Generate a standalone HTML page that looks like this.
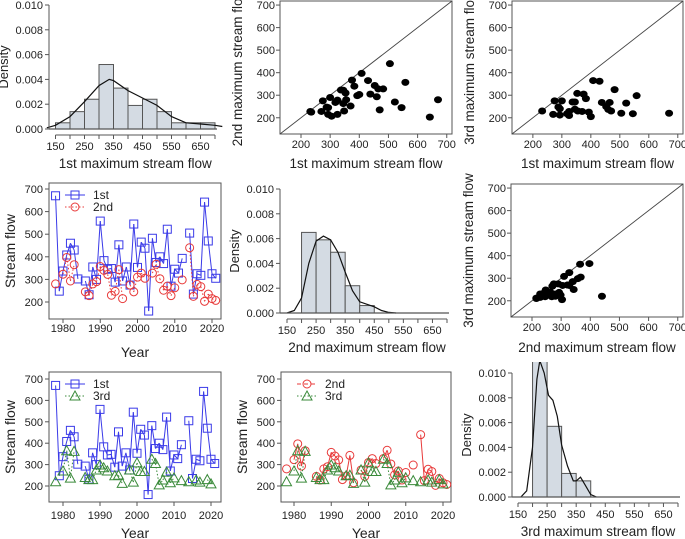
<!DOCTYPE html>
<html><head><meta charset="utf-8"><style>
html,body{margin:0;padding:0;background:#fff;}
svg{display:block;font-family:"Liberation Sans",Arial,sans-serif;}
</style></head><body>
<svg id="fig" width="685" height="539" viewBox="0 0 685 539"></svg>
<script>
const years=[];for(let y=1978;y<=2021;y++)years.push(y);
const first=[670,248,337,408,460,430,302,null,293,232,355,300,558,383,345,348,288,453,293,355,275,545,353,465,438,160,482,375,400,370,522,270,345,328,393,null,505,235,325,318,642,470,325,305];
const second=[280,null,323,397,293,365,null,null,245,228,280,290,357,340,322,230,247,343,215,null,275,245,310,328,305,null,328,367,303,252,270,228,263,null,298,null,440,225,278,268,203,235,215,207];
const third=[220,null,270,365,237,362,null,null,240,230,230,275,298,285,270,null,248,250,212,null,275,218,308,268,268,null,325,305,205,228,265,215,238,null,225,null,220,null,228,218,null,230,210,null];
const binEdges=[150,200,250,300,350,400,450,500,550,600,650,700];
const hist1=[0.0005,0.0014,0.0024,0.0052,0.0033,0.0019,0.0024,0.0014,0.0005,0.0005,0.0005];
const hist2=[0,0.0065,0.0059,0.0049,0.0022,0.0006,0,0,0,0,0];
const hist3=[0,0.0125,0.0057,0.0019,0.0013,0,0,0,0,0,0];
const kdeX1=[120,150,200,250,300,335,350,400,450,500,550,600,650,700,725];
const kdeY1=[0.0001,0.0003,0.0010,0.0022,0.0035,0.0040,0.0039,0.0031,0.0025,0.0019,0.0010,0.0005,0.0004,0.0003,0.0002];
const kdeX2=[150,175,200,225,250,275,300,325,350,375,400,425,450,475,500,525];
const kdeY2=[0,0.0002,0.0012,0.0040,0.0058,0.0062,0.0059,0.0049,0.0033,0.0018,0.0009,0.0007,0.0005,0.0002,0.00005,0];
const kdeX3=[160,180,200,215,225,240,255,270,285,300,320,340,350,365,380,400,420];
const kdeY3=[0,0.0005,0.004,0.0095,0.0110,0.0100,0.0082,0.0078,0.0065,0.0042,0.0025,0.0013,0.0013,0.0016,0.0010,0.0002,0];
const densTicks=[0,0.002,0.004,0.006,0.008,0.010];
const histXTicks=[150,250,350,450,550,650];
const flowTicks=[200,300,400,500,600,700];
const yearTicks=[1980,1990,2000,2010,2020];

const svg=document.getElementById('fig');const NS='http://www.w3.org/2000/svg';
function el(tag,attrs,parent){const e=document.createElementNS(NS,tag);for(const k in attrs)e.setAttribute(k,attrs[k]);(parent||svg).appendChild(e);return e;}
function txt(s,x,y,size,anchor,parent,rot){const t=el('text',{x:x,y:y,'font-size':size,'text-anchor':anchor||'middle',fill:'#222'},parent);if(rot)t.setAttribute('transform','rotate(-90 '+x+' '+y+')');t.textContent=s;return t;}
function lin(d0,d1,p0,p1){return v=>p0+(v-d0)/(d1-d0)*(p1-p0);}

function histPanel(name,ax,y0,y1,x150,x700,axisY,bins,kx,ky,title,titleY,clipTop){
  const g=el('g',{});
  
  const X=lin(150,700,x150,x700),Y=lin(0,0.010,y0,y1);
  const cid=name+'-clip';const cp=el('clipPath',{id:cid},g);el('rect',{x:0,y:clipTop,width:685,height:539},cp);
  const pg=el('g',{'clip-path':'url(#'+cid+')'},g);
  for(let i=0;i<bins.length;i++){if(!bins[i])continue;
    const r=el('rect',{x:X(binEdges[i]),y:Y(bins[i]),width:X(binEdges[i+1])-X(binEdges[i]),height:Y(0)-Y(bins[i]),fill:'#d4dbe3',stroke:'#555','stroke-width':1},pg);
    }
  el('line',{x1:ax,y1:Y(0),x2:x700+2,y2:Y(0),stroke:'#555','stroke-width':1.2},g);
  let d='';for(let i=0;i<kx.length;i++)d+=(i?'L':'M')+X(kx[i]).toFixed(1)+','+Y(ky[i]).toFixed(1);
  const c=el('path',{d:d,fill:'none',stroke:'#111','stroke-width':1.2},pg);
  
  el('line',{x1:ax,y1:Y(0),x2:ax,y2:Y(0.010),stroke:'#555'},g);
  densTicks.forEach(v=>{el('line',{x1:ax-4,y1:Y(v),x2:ax,y2:Y(v),stroke:'#555'},g);txt(v.toFixed(3),ax-6,Y(v)+4,11,'end',g);});
  el('line',{x1:X(150),y1:axisY,x2:X(700),y2:axisY,stroke:'#555'},g);
  for(let v=150;v<=700;v+=50)el('line',{x1:X(v),y1:axisY,x2:X(v),y2:axisY+4,stroke:'#555'},g);
  histXTicks.forEach(v=>txt(v,X(v),axisY+15,11,'middle',g));
  const yt=txt('Density',ax-41,(Y(0)+Y(0.010))/2,13,'middle',g,true);
  
  const xt=txt(title,(X(150)+X(700))/2,titleY,13.5,'middle',g);
  
}

function scatterPanel(name,box,xs,ys,xTitle,yTitle,xTickY,xTitleY,yTitleX){
  const g=el('g',{});
  
  const X=lin(128,718,box[0],box[2]),Y=lin(128,718,box[3],box[1]);
  el('rect',{x:box[0],y:box[1],width:box[2]-box[0],height:box[3]-box[1],fill:'none',stroke:'#555'},g);
  el('line',{x1:box[0],y1:box[3],x2:box[2],y2:box[1],stroke:'#444','stroke-width':0.9},g);
  flowTicks.forEach(v=>{el('line',{x1:X(v),y1:box[3],x2:X(v),y2:box[3]+4,stroke:'#555'},g);txt(v,X(v),xTickY,11,'middle',g);
    el('line',{x1:box[0]-4,y1:Y(v),x2:box[0],y2:Y(v),stroke:'#555'},g);txt(v,box[0]-5,Y(v)+4,11,'end',g);});
  for(let i=0;i<xs.length;i++){if(xs[i]==null||ys[i]==null)continue;
    const p=el('ellipse',{cx:X(xs[i]),cy:Y(ys[i]),rx:4,ry:3.5,fill:'#000'},g);
    }
  const xt=txt(xTitle,(box[0]+box[2])/2,xTitleY,13.5,'middle',g);
  
  const yt=txt(yTitle,yTitleX,(box[1]+box[3])/2,13.5,'middle',g,true);
  
}

function marker(type,x,y,col,g){
  let m;
  if(type==='sq')m=el('rect',{x:x-4,y:y-4,width:8,height:8,fill:'none',stroke:col,'stroke-width':1},g);
  else if(type==='ci')m=el('circle',{cx:x,cy:y,r:4,fill:'none',stroke:col,'stroke-width':1},g);
  else m=el('path',{d:'M'+x+','+(y-5)+'L'+(x+5)+','+(y+4)+'L'+(x-5)+','+(y+4)+'Z',fill:'none',stroke:col,'stroke-width':1},g);
  return m;
}
function series(g,X,Y,vals,col,type,dash,name){
  const sg=el('g',{},g);
  for(let i=1;i<vals.length;i++){if(vals[i]==null||vals[i-1]==null)continue;
    const l=el('line',{x1:X(years[i-1]),y1:Y(vals[i-1]),x2:X(years[i]),y2:Y(vals[i]),stroke:col,'stroke-width':1},sg);if(dash)l.setAttribute('stroke-dasharray',dash);}
  for(let i=0;i<vals.length;i++){if(vals[i]==null)continue;const m=marker(type,X(years[i]),Y(vals[i]),col,sg);
    }
}
function tsPanel(name,box,x1980,x2020,y200,y700,list,xTickY,yearY){
  const g=el('g',{});
  
  const X=lin(1980,2020,x1980,x2020),Y=lin(200,700,y200,y700);
  el('rect',{x:box[0],y:box[1],width:box[2]-box[0],height:box[3]-box[1],fill:'none',stroke:'#555'},g);
  yearTicks.forEach(v=>{el('line',{x1:X(v),y1:box[3],x2:X(v),y2:box[3]+4,stroke:'#555'},g);txt(v,X(v),xTickY,11,'middle',g);});
  flowTicks.forEach(v=>{el('line',{x1:box[0]-4,y1:Y(v),x2:box[0],y2:Y(v),stroke:'#555'},g);txt(v,box[0]-6,Y(v)+4,11,'end',g);});
  list.forEach(s=>series(g,X,Y,s.vals,s.col,s.type,s.dash,s.name));
  const lg=el('g',{},g);
  list.forEach((s,i)=>{const ly=box[1]+12+i*12;const lx=box[0]+16;
    const l=el('line',{x1:lx,y1:ly,x2:lx+20,y2:ly,stroke:s.col},lg);if(s.ldash)l.setAttribute('stroke-dasharray',s.ldash);
    marker(s.type,lx+10,ly,s.col,lg);
    const t=txt(s.label,lx+28,ly+4,12,'start',lg);});
  const yt=txt('Stream flow',box[0]-34,(box[1]+box[3])/2,14,'middle',g,true);
  
  const xt=txt('Year',(box[0]+box[2])/2,yearY,14,'middle',g);
  
}

const S1={vals:first,col:'#3a3ae8',type:'sq',dash:null,ldash:null,label:'1st',name:'series-1st'};
const S2d={vals:second,col:'#e83a3a',type:'ci',dash:'1.5,2',ldash:'1.5,2',label:'2nd',name:'series-2nd'};
const S2={vals:second,col:'#e83a3a',type:'ci',dash:null,ldash:'4,3',label:'2nd',name:'series-2nd'};
const S3={vals:third,col:'#3a8a3a',type:'tr',dash:'1.5,2',ldash:'1.5,2',label:'3rd',name:'series-3rd'};

histPanel('histogram-1st',49,129,5,55.5,215,135,hist1,kdeX1,kdeY1,'1st maximum stream flow',168,0);
scatterPanel('scatter-1st-vs-2nd',[280,1,452,134],first,second,'1st maximum stream flow','2nd maximum stream flow',148,168,242);
scatterPanel('scatter-1st-vs-3rd',[512,1,683,134],first,third,'1st maximum stream flow','3rd maximum stream flow',148,168,474);
tsPanel('timeseries-1st-2nd',[49,183,221,319],63,212,302,189,[S1,S2d],332,357);
histPanel('histogram-2nd',280,313,189,287,447,319,hist2,kdeX2,kdeY2,'2nd maximum stream flow',352,180);
scatterPanel('scatter-2nd-vs-3rd',[511,184,683,317],second,third,'2nd maximum stream flow','3rd maximum stream flow',331,352,473);
tsPanel('timeseries-1st-3rd',[49,372,221,502],63,211,486,379,[S1,S3],519,538);
tsPanel('timeseries-2nd-3rd',[281,372,451,502],294,443,486,379,[S2,S3],519,538);
histPanel('histogram-3rd',512,497,373,518,678,503,hist3,kdeX3,kdeY3,'3rd maximum stream flow',536,362);
</script>
</body></html>
